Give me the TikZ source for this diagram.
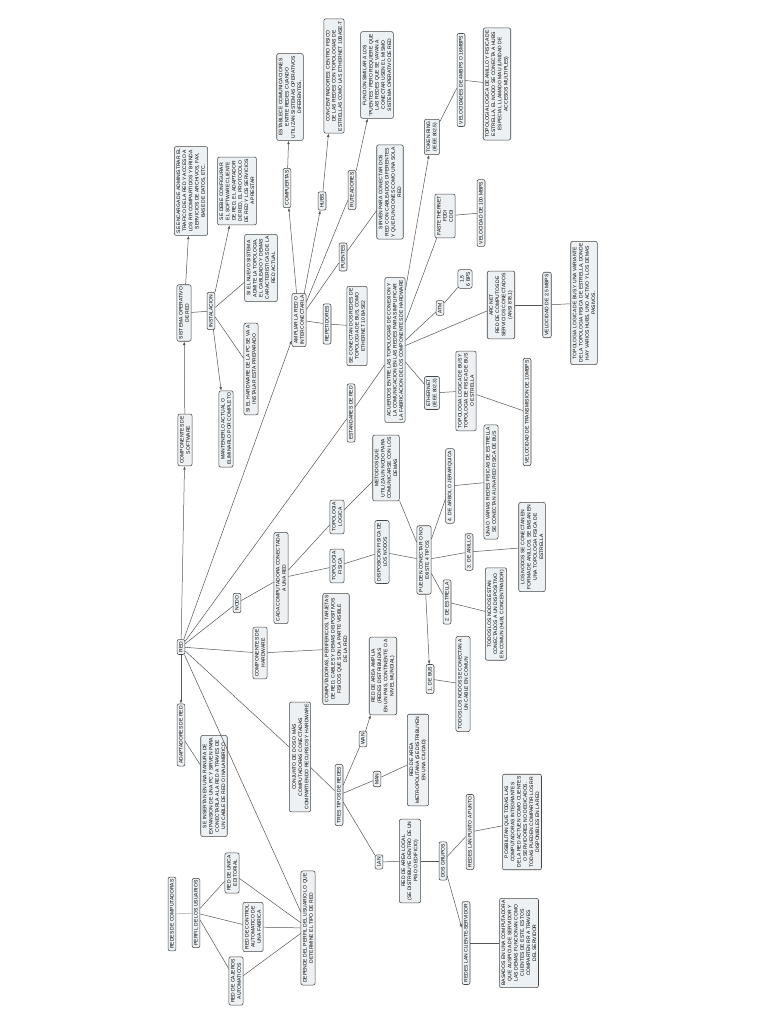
\documentclass[tikz,border=0pt]{standalone}
\usepackage{fontspec}
\setmainfont{Liberation Sans}
\usetikzlibrary{arrows.meta}
\definecolor{boxfill}{RGB}{237,241,244}
\definecolor{boxline}{RGB}{70,70,70}
\definecolor{lncol}{RGB}{85,85,85}
\tikzset{
  box/.style={draw=boxline, fill=boxfill, rounded corners=2pt, inner sep=2.2pt, align=center, rotate=90, line width=0.55pt, font=\fontsize{5}{6.2}\selectfont},
  ln/.style={draw=lncol, line width=0.5pt},
  arr/.style={ln, -{Latex[length=3.5pt,width=2.6pt]}}
}
\begin{document}
\begin{tikzpicture}[x=1pt,y=-1pt]
\path[use as bounding box, fill=white] (0,0) rectangle (768,1024);
% nodes
\node[box] (redcomp) at (172,914) {REDES DE COMPUTADORAS};
\node[box] (perfil) at (196,913) {PERFIL DE LOS USUARIOS};
\node[box] (unica) at (232,873) {RED DE UNICA\\EDITORIAL};
\node[box] (control) at (253,927) {RED DE CONTROL\\AUTOMATICO DE\\UNA FABRICA};
\node[box] (cajeros) at (236,981) {RED DE CAJEROS\\AUTOMATICOS};
\node[box] (depende) at (308,928) {DEPENDE DEL PERFIL DEL USUARIO LO QUE\\DETERMINE EL TIPO DE RED};
\node[box] (adapt) at (181,735) {ADAPTADORES DE RED};
\node[box] (inserta) at (214,786) {SE INSERTAN EN UNA RANURA DE\\EXPANSION DE UNA PC Y SIRVEN PARA\\CONECTARLA A LA RED A TRAVES DE\\UN CABLE DE RED O INALAMBRICO};
\node[box] (red) at (181,647) {RED};
\node[box] (cds) at (185,440) {COMPONENTES DE\\SOFTWARE};
\node[box] (so) at (184,313) {SISTEMA OPERATIVO\\DE RED};
\node[box] (encarga) at (191,191) {SE ENCARGA DE ADMINISTRAR EL\\TRAFICO DE LA RED Y ACCESO A\\LOS RR COMPARTIDOS Y BRINDA\\SERVICIOS DE ARCHIVOS, FAX,\\BASE DE DATOS, ETC.};
\node[box] (instal) at (211,311) {INSTALACION};
\node[box] (config) at (237,191) {SE DEBE CONFIGURAR:\\EL SOFTWARE CLIENTE\\DE RED, EL ADAPTADOR\\DE RED, EL PROTOCOLO\\DE RED Y LOS SERVICIOS\\A PRESTAR};
\node[box] (nuevo) at (261,268) {SI EL NUEVO SISTEMA\\ADMITE LA TOPOLOGIA,\\EL CABLEADO Y DEMAS\\CARACTERISTICAS DE LA\\RED ACTUAL};
\node[box] (hwpc) at (251,369) {SI EL HARDWARE DE LA PC SE VA A\\INSTALAR ESTA PREPARADO};
\node[box] (mantener) at (226,429) {MANTENERLO ACTUAL O\\ELIMINARLO POR COMPLETO};
\node[box] (ampliar) at (299,320) {AMPLIAR LA RED O\\INTERCONECTARLA};
\node[box] (compuertas) at (287,188) {COMPUERTAS};
\node[box] (establece) at (290,97) {ESTABLECE COMUNICACIONES\\ENTRE REDES CUANDO\\UTILIZAN SISTEMAS OPERATIVOS\\DIFERENTES.};
\node[box] (hubs) at (322,201) {HUBS};
\node[box] (concentr) at (334,76) {CONCENTRADORES: CENTRO FISICO\\DE LAS REDES CON TOPOLOGIAS DE\\ESTRELLAS COMO LAS ETHERNET 10BASE-T};
\node[box] (rutead) at (352,190) {RUTEADORES};
\node[box] (funcion) at (377,75) {FUNCION SIMILAR A LOS\\``PUENTES'' PERO REQUIERE QUE\\LAS REDES QUE SE VAYAN A\\CONECTAR USEN EL MISMO\\SISTEMA OPERATIVO DE RED};
\node[box] (puentes) at (343,257) {PUENTES};
\node[box] (sirven) at (390,192) {SIRVEN PARA CONECTAR DOS\\RED CON CABLEADOS DIFERENTES\\Y QUE FUNCIONES COMO UNA SOLA\\RED};
\node[box] (repet) at (327,324) {REPETIDORES};
\node[box] (seconectan) at (357,326) {SE CONECTAN DOS REDES DE\\TOPOLOGIA DE BUS, COMO\\ETHERNET 10 BASE2};
\node[box] (estand) at (351,413) {ESTANDARES DE RED};
\node[box] (acuerdos) at (395,350) {ACUERDOS ENTRE LAS TOPOLOGIAS DE CONEXION Y\\LA COMUNICACION EN LAS REDES PARA SIMPLIFICAR\\LA FABRICACION DE LOS COMPONENTES DE HARDWARE};
\node[box] (token) at (432,137) {TOKEN RING\\(IEEE 802.5)};
\node[box] (vel4) at (461,80) {VELOCIDADES DE 4MBPS O 16MBPS};
\node[box] (anillo4) at (497,84) {TOPOLOGIA LOGICA DE ANILLO Y FISICA DE\\ESTRELLA, EL NODO SE CONECTA A HUBS\\ESPECIAL LLAMADO MAU (UNIDAD DE\\ACCESOS MULTIPLES)};
\node[box] (fast) at (445,216) {FASTETHERNET\\FDDI\\CDDI};
\node[box] (vel100) at (481,213) {VELOCIDAD DE 100 MBPS};
\node[box] (atm) at (440,308) {ATM};
\node[box] (bps) at (465,279) {1,5\\6 BPS};
\node[box] (arcnet) at (501,305) {ARC NET\\RED DE COMPUTOS DE\\SERVICIOS CONECTADOS\\(ANSI 878.1)};
\node[box] (vel25) at (547,305) {VELOCIDAD DE 2,5 MBPS};
\node[box] (varhub) at (584,303) {TOPOLOGIA LOGICA DE BUS Y UNA VARIANTE\\DE LA TOPOLOGIA FISICA DE ESTRELLA, DONDE\\HAY VARIOS HUBS, UNO ACTIVO Y LOS DEMAS\\PASIVOS.};
\node[box] (ether) at (432,393) {ETHERNET\\(IEEE 802.3)};
\node[box] (topbus) at (466,391) {TOPOLOGIA LOGICA DE BUS Y\\TOPOLOGIA DE FISICA DE BUS\\O ESTRELLA};
\node[box] (vel10) at (527,412) {VELOCIDAD DE TRANSMISION DE 10MBPS};
\node[box] (nodo) at (237,603) {NODO};
\node[box] (cada) at (281,578) {CADA COMPUTADORA CONECTADA\\A UNA RED};
\node[box] (topfis) at (337,566) {TOPOLOGIA\\FISICA};
\node[box] (toplog) at (337,517) {TOPOLOGIA\\LOGICA};
\node[box] (metodos) at (386,468) {METODOS QUE\\UTILIZA UN NODO PARA\\COMUNICARSE CON LOS\\DEMAS};
\node[box] (dispos) at (382,552) {DISPOSICION FISICA DE\\LOS NODOS};
\node[box] (pueden) at (424,560) {PUEDEN CONECTAR O NO\\EXISTE 4 TIPOS:};
\node[box] (debus) at (430,679) {1. DE BUS};
\node[box] (cable) at (463,684) {TODOS LOS NODOS SE CONECTAN A\\UN CABLE EN COMUN};
\node[box] (estrella) at (447,602) {2. DE ESTRELLA};
\node[box] (hubcom) at (496,614) {TODOS LOS NODOS ESTAN\\CONECTADOS A UN DISPOSITIVO\\EN COMUN (HUB, CONCENTRADOR)};
\node[box] (deanillo) at (469,552) {3. DE ANILLO};
\node[box] (formaanillo) at (532,547) {LOS NODOS SE CONECTAN EN\\FORMA DE ANILLOS. SE BASAN EN\\UNA TOPOLOGIA FISICA DE\\ESTRELLA};
\node[box] (arbol) at (450,486) {4. DE ARBOL O JERARQUICA};
\node[box] (unavarias) at (491,482) {UNA O VARIAS REDES FISICAS DE ESTRELLA\\SE CONECTAN A UNA RED FISICA DE BUS};
\node[box] (comphw) at (260,653) {COMPONENTES DE\\HARDWARE};
\node[box] (computadoras) at (336,649) {COMPUTADORAS, PERIFERICOS, TARJETAS\\DE RED, CABLES Y DEMAS DISPOSITIVOS\\FISICOS QUE SON LA PARTE VISIBLE\\DE LA RED};
\node[box] (conjunto) at (300,757) {CONJUNTO DE DOS O MÁS\\COMPUTADORAS CONECTADAS\\COMPARTIENDO RECURSOS Y HARDWARE};
\node[box] (tres) at (339,795) {TRES TIPOS DE REDES};
\node[box] (wan) at (363,739) {WAN};
\node[box] (amplia) at (383,676) {RED DE AREA AMPLIA\\(REDES DISTRIBUIDAS\\EN UN PAIS, CONTINENTE O A\\NIVEL MUNDIAL)};
\node[box] (man) at (377,779) {MAN};
\node[box] (metro) at (418,760) {RED DE AREA\\METROPOLITANA (SE DISTRIBUYEN\\EN UNA CIUDAD)};
\node[box] (lan) at (379,862) {LAN};
\node[box] (local) at (410,861) {RED DE AREA LOCAL\\(SE DISTRIBUYE DENTRO DE UN\\PISO O EDIFICIO)};
\node[box] (dos) at (443,861) {DOS GRUPOS};
\node[box] (punto) at (470,832) {REDES LAN PUNTO A PUNTO};
\node[box] (posib) at (522,822) {POSIBILITAN QUE TODAS LAS\\COMPUTADORAS INTEGRANTES\\DE LA RED ACTUEN COMO CLIENTES\\O SERVIDORES NO DEDICADOS.\\TODAS PUEDEN COMPARTIR LOS RR\\DISPONIBLES EN LA RED};
\node[box] (cliente) at (466,943) {REDES LAN CLIENTE-SERVIDOR};
\node[box] (basados) at (519,943) {BASADOS EN UNA COMPUTADORA\\QUE AUSPICIA DE SERVIDOR Y\\LAS DEMAS FUNCIONAN COMO\\CLIENTES DE ESTE. ESTOS\\COMPARTEN RR A TRAVES\\DEL SERVIDOR};
% connectors
\draw[ln, draw=black!35] (redcomp) -- (perfil);
\draw[ln] (perfil) -- (unica);
\draw[ln] (perfil) -- (control);
\draw[ln] (perfil) -- (cajeros);
\draw[ln] (unica) -- (depende);
\draw[ln] (control) -- (depende);
\draw[ln] (cajeros) -- (depende);
\draw[ln] (red) -- (depende);
\draw[arr] (red) -- (adapt);
\draw[ln] (adapt) -- (inserta);
\draw[arr] (red) -- (cds);
\draw[arr] (cds) -- (so);
\draw[arr] (so) -- (encarga);
\draw[ln] (so) -- (instal);
\draw[arr] (instal) -- (config);
\draw[ln] (instal) -- (nuevo);
\draw[ln] (instal) -- (hwpc);
\draw[arr] (instal) -- (mantener);
\draw[arr] (red) -- (ampliar);
\draw[arr] (ampliar) -- (compuertas);
\draw[arr] (compuertas) -- (establece);
\draw[arr] (ampliar) -- (hubs);
\draw[arr] (hubs) -- (concentr);
\draw[ln] (ampliar) -- (rutead);
\draw[arr] (rutead) -- (funcion);
\draw[ln] (ampliar) -- (puentes);
\draw[ln] (puentes) -- (sirven);
\draw[ln] (ampliar) -- (repet);
\draw[ln] (repet) -- (seconectan);
\draw[ln] (red) -- (estand);
\draw[ln] (estand) -- (acuerdos);
\draw[arr] (acuerdos) -- (token);
\draw[ln] (token) -- (vel4);
\draw[ln] (vel4) -- (anillo4);
\draw[ln] (acuerdos) -- (fast);
\draw[ln] (fast) -- (vel100);
\draw[ln] (acuerdos) -- (atm);
\draw[ln] (atm) -- (bps);
\draw[ln] (acuerdos) -- (arcnet);
\draw[ln] (arcnet) -- (vel25);
\draw[ln] (vel25) -- (varhub);
\draw[ln] (acuerdos) -- (ether);
\draw[ln] (ether) -- (topbus);
\draw[ln] (topbus) -- (vel10);
\draw[ln] (red) -- (nodo);
\draw[ln] (nodo) -- (cada);
\draw[ln] (cada) -- (topfis);
\draw[ln] (cada) -- (toplog);
\draw[ln] (toplog) -- (metodos);
\draw[ln] (topfis) -- (dispos);
\draw[ln] (metodos) -- (pueden);
\draw[ln] (dispos) -- (pueden);
\draw[arr] (pueden) -- (debus);
\draw[ln] (debus) -- (cable);
\draw[ln] (pueden) -- (estrella);
\draw[ln] (estrella) -- (hubcom);
\draw[ln] (pueden) -- (deanillo);
\draw[ln] (deanillo) -- (formaanillo);
\draw[ln] (pueden) -- (arbol);
\draw[ln] (arbol) -- (unavarias);
\draw[ln] (red) -- (comphw);
\draw[ln] (comphw) -- (computadoras);
\draw[ln] (red) -- (conjunto);
\draw[ln] (conjunto) -- (tres);
\draw[ln] (tres) -- (wan);
\draw[arr] (wan) -- (amplia);
\draw[ln] (tres) -- (man);
\draw[ln] (man) -- (metro);
\draw[ln] (tres) -- (lan);
\draw[ln] (lan) -- (local);
\draw[ln] (local) -- (dos);
\draw[ln] (dos) -- (punto);
\draw[ln] (punto) -- (posib);
\draw[arr] (dos) -- (cliente);
\draw[ln] (cliente) -- (basados);
\end{tikzpicture}
\end{document}
